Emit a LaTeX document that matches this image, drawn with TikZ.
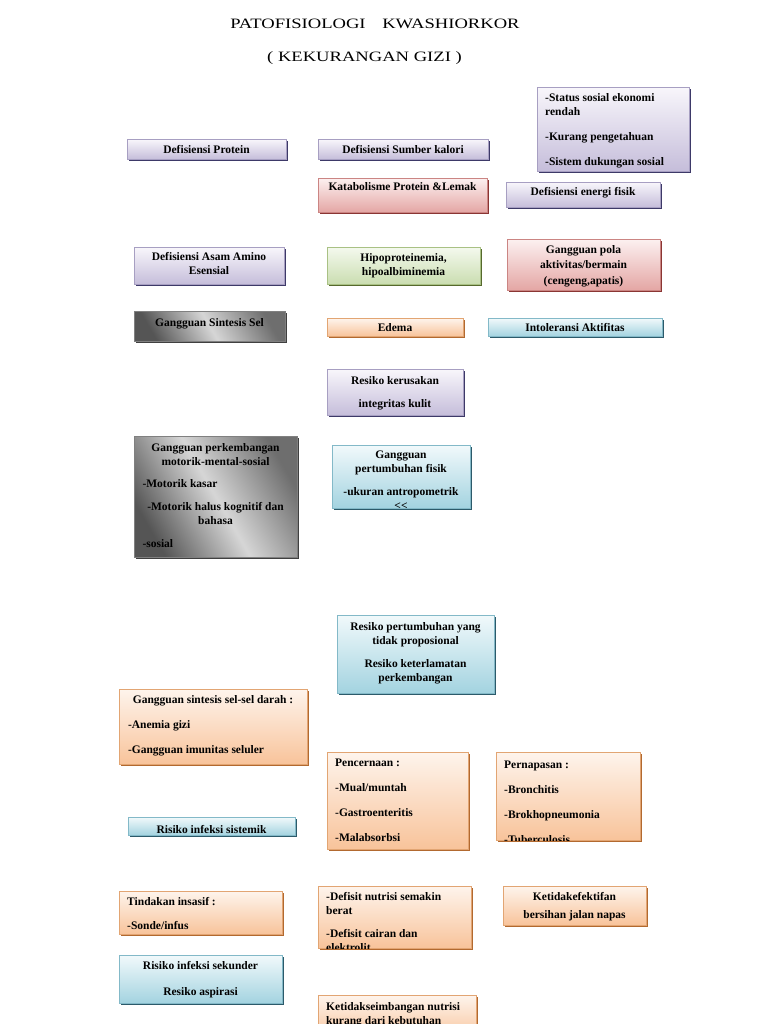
\documentclass[tikz,border=0pt]{standalone}
\usepackage{fontspec}
\setmainfont{Liberation Serif}
\newfontfamily\judul[FakeStretch=1.3]{Liberation Serif}
\usetikzlibrary{shadows}

\definecolor{unguatas}{HTML}{F8F6FB}
\definecolor{ungubawah}{HTML}{C5BDDA}
\definecolor{ungutepi}{HTML}{A79FC2}
\definecolor{ungubayang}{HTML}{3D3968}
\definecolor{merahatas}{HTML}{FCF0F0}
\definecolor{merahbawah}{HTML}{E4A6A4}
\definecolor{merahtepi}{HTML}{CB8583}
\definecolor{merahbayang}{HTML}{8A3533}
\definecolor{hijauatas}{HTML}{F4F9EE}
\definecolor{hijaubawah}{HTML}{CADDB0}
\definecolor{hijautepi}{HTML}{A9C184}
\definecolor{hijaubayang}{HTML}{56692D}
\definecolor{oranyeatas}{HTML}{FEF4EC}
\definecolor{oranyebawah}{HTML}{F8C39A}
\definecolor{oranyetepi}{HTML}{E2A573}
\definecolor{oranyebayang}{HTML}{B2692F}
\definecolor{biruatas}{HTML}{F1F9FB}
\definecolor{birubawah}{HTML}{A3D3E0}
\definecolor{birutepi}{HTML}{83B9C8}
\definecolor{birubayang}{HTML}{2C5A6A}
\definecolor{abugelap}{HTML}{555555}
\definecolor{aburang}{HTML}{D6D6D6}

\tikzset{
  kotak/.style={rectangle, inner sep=0pt, anchor=north west, line width=0.6pt},
  warna/.style={top color=#1atas, bottom color=#1bawah, draw=#1tepi,
    drop shadow={shadow xshift=1.6pt, shadow yshift=-1.6pt, opacity=1, fill=#1bayang}},
  abu/.style={left color=abugelap, right color=abugelap!85, middle color=aburang,
    shading angle=120, draw=gray,
    drop shadow={shadow xshift=1.6pt, shadow yshift=-1.6pt, opacity=1, fill=black!75}},
  teks/.style={font=\fontsize{11.5}{14}\selectfont\bfseries, inner sep=0pt},
  tengah/.style={anchor=north, align=center},
  kiri/.style={anchor=north west, align=left, xshift=-\setengah pt},
}

% nama, gaya, x1, y1, x2, y2, y baris pertama, rata, isi
\newcommand{\kotak}[9]{%
  \pgfmathsetmacro\setengah{(#5-#3)/2-8}%
  \node (#1) [kotak, #2, minimum width=#5-#3, minimum height=#6-#4] at (#3,#4) {};
  \begin{scope}
    \clip (#1.north west) rectangle (#1.south east);
    \node (#1-isi) [teks, #8] at ({(#3+#5)/2},{#7-4}) {#9};
  \end{scope}
}

\begin{document}
\begin{tikzpicture}[x=1pt, y=-1pt]
\path [use as bounding box, fill=white] (0,0) rectangle (768,1024);

\node (judul1) [font=\judul\fontsize{14.3}{16}\selectfont] at (375,24) {PATOFISIOLOGI\hspace{12pt} KWASHIORKOR};
\node (judul2) [font=\judul\fontsize{14.3}{16}\selectfont] at (364.5,58) {( KEKURANGAN GIZI )};

\kotak{sosial}{warna=ungu}{537}{87}{689}{171}{97}{kiri}{-Status sosial ekonomi\\rendah\\[11pt]-Kurang pengetahuan\\[11pt]-Sistem dukungan sosial}
\kotak{protein}{warna=ungu}{127}{139}{286}{159}{149}{tengah}{Defisiensi Protein}
\kotak{kalori}{warna=ungu}{318}{139}{488}{159}{149}{tengah}{Defisiensi Sumber kalori}
\kotak{katabolisme}{warna=merah}{318}{178}{487}{212}{186}{tengah}{Katabolisme Protein \&Lemak}
\kotak{energi}{warna=ungu}{506}{182}{660}{207}{191}{tengah}{Defisiensi energi fisik}

\kotak{asamamino}{warna=ungu}{134}{247}{284}{284}{256}{tengah}{Defisiensi Asam Amino\\Esensial}
\kotak{hipo}{warna=hijau}{327}{247}{480}{284}{257}{tengah}{Hipoproteinemia,\\hipoalbiminemia}
\kotak{pola}{warna=merah}{507}{239}{660}{290}{249}{tengah}{Gangguan pola\\[1.5pt]aktivitas/bermain\\[1.5pt](cengeng,apatis)}

\kotak{sintesis}{abu}{134}{311}{285}{341}{322}{tengah}{Gangguan Sintesis Sel}
\kotak{edema}{warna=oranye}{327}{318}{463}{336}{327}{tengah}{Edema}
\kotak{intoleransi}{warna=biru}{488}{318}{662}{336}{327}{tengah}{Intoleransi Aktifitas}
\kotak{kulit}{warna=ungu}{327}{369}{463}{415}{380}{tengah}{Resiko kerusakan\\[9pt]integritas kulit}

\kotak{perkembangan}{abu}{134}{436}{297}{557}{447}{tengah}{Gangguan perkembangan\\motorik-mental-sosial\\[8pt]\makebox[146pt][l]{-Motorik kasar}\\[9pt]-Motorik halus kognitif dan\\bahasa\\[9pt]\makebox[146pt][l]{-sosial}}
\kotak{fisik}{warna=biru}{332}{445}{470}{508}{455}{tengah}{Gangguan\\pertumbuhan fisik\\[9pt]-ukuran antropometrik\\<{}<}

\kotak{proporsional}{warna=biru}{337}{615}{494}{693}{626}{tengah}{Resiko pertumbuhan yang\\tidak proposional\\[9pt]Resiko keterlamatan\\perkembangan}
\kotak{darah}{warna=oranye}{119}{689}{307}{764}{699}{tengah}{Gangguan sintesis sel-sel darah :\\[11pt]\makebox[170pt][l]{-Anemia gizi}\\[11pt]\makebox[170pt][l]{-Gangguan imunitas seluler}}

\kotak{cerna}{warna=oranye}{327}{752}{468}{849}{763}{kiri}{Pencernaan :\\[11pt]-Mual/muntah\\[11pt]-Gastroenteritis\\[11pt]-Malabsorbsi}
\kotak{napas}{warna=oranye}{496}{752}{640}{840}{765}{kiri}{Pernapasan :\\[11pt]-Bronchitis\\[11pt]-Brokhopneumonia\\[11pt]-Tuberculosis}
\kotak{sistemik}{warna=biru}{128}{817}{295}{835}{829.5}{tengah}{Risiko infeksi sistemik}

\kotak{tindakan}{warna=oranye}{119}{891}{282}{934}{901}{kiri}{Tindakan insasif :\\[10pt]-Sonde/infus}
\kotak{defisit}{warna=oranye}{318}{886}{471}{948}{896}{kiri}{-Defisit nutrisi semakin\\berat\\[9pt]-Defisit cairan dan\\elektrolit}
\kotak{efektif}{warna=oranye}{503}{886}{646}{925}{896}{tengah}{Ketidakefektifan\\[4pt]bersihan jalan napas}
\kotak{sekunder}{warna=biru}{119}{955}{282}{1003}{965}{tengah}{Risiko infeksi sekunder\\[12pt]Resiko aspirasi}
\kotak{seimbang}{warna=oranye}{318}{995}{476}{1040}{1006}{kiri}{Ketidakseimbangan nutrisi\\kurang dari kebutuhan}
\end{tikzpicture}
\end{document}
